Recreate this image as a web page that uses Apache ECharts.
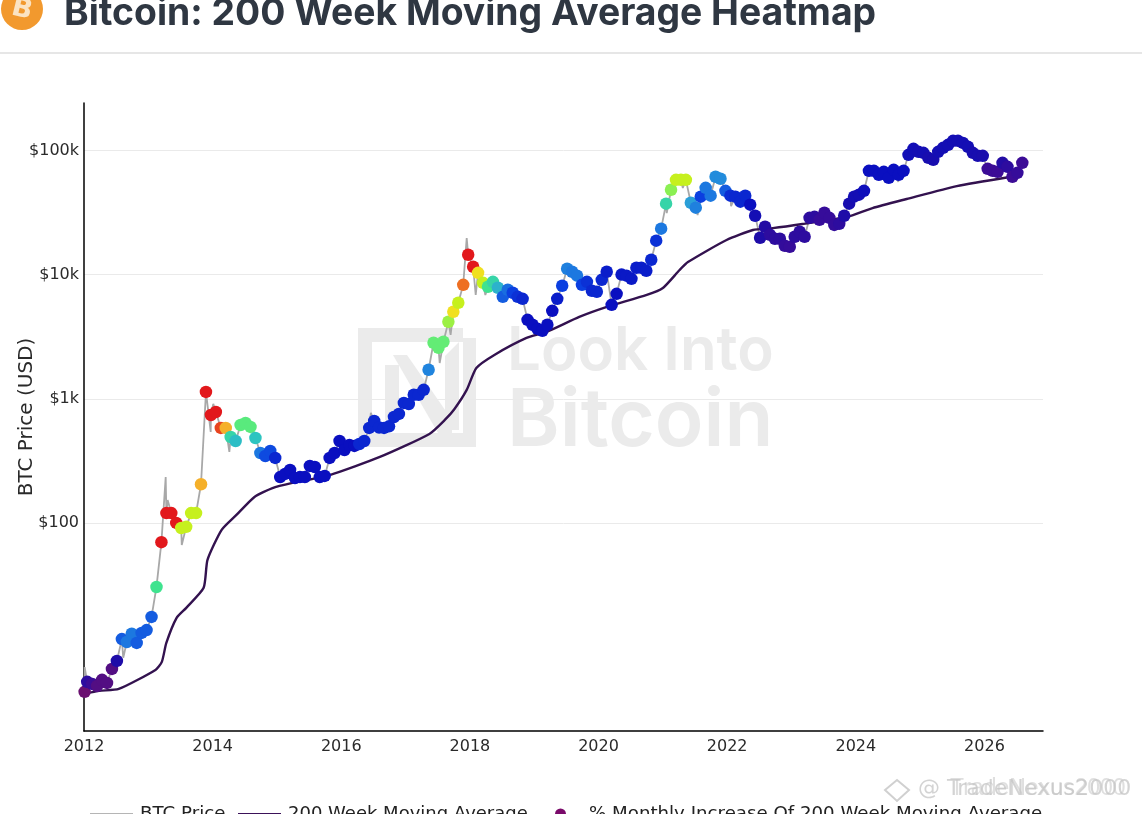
<!DOCTYPE html>
<html><head><meta charset="utf-8">
<style>html,body{margin:0;padding:0;background:#fff;overflow:hidden}#c{width:1142px;height:814px}</style>
<script src="https://cdn.jsdelivr.net/npm/echarts@6/dist/echarts.min.js"></script>
</head><body><div id="c"></div>
<script>
const tickValues=[100,1000,10000,100000];
const tickLabels=['$100','$1k','$10k','$100k'];
const xTicks=[2012,2014,2016,2018,2020,2022,2024,2026];
const seriesNames=['BTC Price','200 Week Moving Average','% Monthly Increase Of 200 Week Moving Average'];
const dotFirst=2012.01, dotStart=2012.05, dotStep=1/13;
const dotPrices=[4.36,5.25,5.05,4.87,5.45,5.15,6.67,7.74,11.6,11,12.8,10.8,13,13.7,17.5,30.5,70,120,120,100,91,93,120,120,205,1135,740,783,582,582,492,457,615,639,593,483,366,346,380,334,234,248,267,230,234,234,288,282,234,239,334,366,457,387,425,417,432,457,582,662,587,582,600,
713,755,926,908,1077,1077,1180,1712,2825,2573,2877,4169,5018,5929,8277,14440,11560,10340,8590,7980,8750,7830,6620,7550,7140,6620,6380,4325,3945,3660,3530,3945,5110,6380,8130,11140,10540,9800,8277,8750,7410,7270,9080,10540,5710,7000,10000,9800,9250,11350,11350,10740,13180,18750,23440,
37240,48200,57940,57940,57940,37930,34600,42430,50000,43250,61400,59150,47300,43250,42430,38650,43250,36560,29800,19800,24270,20900,19450,19450,17060,16750,20180,22130,20180,28640,29170,27620,31480,28640,25120,25640,29800,37240,42430,44060,47300,68500,68500,63640,67250,60200,69800,63640,68500,92200,103000,97500,95700,87200,84000,97500,105000,111000,119500,119500,115000,107000,95700,90500,90500,71100,68500,67250,79400,73800,61400,66000,79400];
const dotPcts=[0,1.5,1,.5,.5,.5,.5,2,4.5,5,5,4.5,4.5,4.5,4.5,8,14,14,14,14,10,10,10,10,12,14,14,14,13.5,12,7.5,6.8,8.5,8.5,8.5,7,5,4.2,4.2,3.5,3,3,3,3,3,3,3,3,3,3,3,3,3,3,3,3,3.5,3.5,3.5,3.5,3.5,3.5,3.5,
3.5,3.5,3.5,3.5,3.5,3.5,3.5,5.3,8.7,8.7,8.7,9.5,11,10,13,14,14,11,10,8,7.5,6.5,4.5,4.8,4,3.7,3.5,3,3,3,3,3,3,3.3,4,5.2,5,5,4,3.7,3.5,3.5,3.5,3.3,3,3,3.2,3.2,3.2,3.3,3.3,3.3,3.5,3.7,5,
7.5,9.3,10,10,10,6,5.2,4,5,5,5.5,5.5,4.5,3.6,3.5,3.5,3.5,3,2.5,2,1.8,1.5,1.5,1.5,1.3,1.2,1.5,1.5,1.5,1.5,1.5,1.2,1.2,1.2,1.3,1.5,2,2.3,2.5,2.5,2.8,3,3,3,3,3,3,3,3,2.6,2.6,2.5,2.5,2.3,2.3,2.5,2.5,2.5,2.5,2.5,2.5,2.5,2.3,2.3,2.2,1,1,1,1.8,1.5,1,1.2,1];
const wmaYears=[2012,2012.24,2012.54,2013.11,2013.21,2013.28,2013.44,2013.59,2013.86,2013.92,2014.14,2014.37,2014.65,2014.93,2015.24,2015.82,2016.6,2017.37,2017.61,2017.76,2017.95,2018.1,2018.38,2018.88,2019.19,2019.7,2020.13,2020.75,2021,2021.26,2021.39,2021.99,2022.4,2022.71,2023.17,2023.86,2024.26,2024.79,2025.57,2026.39];
const wmaPrices=[4.2,4.44,4.6,6.55,7.6,10.8,17.2,20.7,30,50.4,87.9,116,162,191,210,243,340,521,675,828,1178,1770,2255,3090,3450,4560,5495,6860,7800,10890,12620,19000,22860,23700,25580,29100,34360,40640,51640,61100];
const wickYears=[2012.01,2012.61,2013.27,2013.3,2013.52,2013.97,2014.01,2014.26,2016.46,2017.53,2017.7,2017.95,2018.09,2018.24,2021.06,2021.31,2021.54,2022.06,2024.57,2024.66];
const wickPrices=[6.9,8.2,234,153,66.5,540,910,373,770,1940,3270,19700,6850,6850,31300,49800,30200,35600,55700,55700];
const heatColors=['#6a1070','#3c0c96','#1e0ca8','#0a0fc0','#0b3fe0','#1c78e0','#2a9fd8','#2dc4c0','#3fe38f','#72f06a','#c6f01e','#f0e020','#f5b02a','#ee6f22','#e2181c'];

const dots=dotPrices.map((p,i)=>[i===0?dotFirst:dotStart+(i-1)*dotStep,p,dotPcts[i]]);
const priceLine=dots.map(d=>[d[0],d[1]]).concat(wickYears.map((y,i)=>[y,wickPrices[i]])).sort((a,b)=>a[0]-b[0]);
const wma=wmaYears.map((y,i)=>[y,wmaPrices[i]]);
const font='"DejaVu Sans",sans-serif';
const wm='#ebebeb';
const poly=(pts)=>({type:'polygon',z:-1,silent:true,shape:{points:pts},style:{fill:wm}});
const legendItem=(idx,left,icon)=>({left,top:805,itemWidth:43,itemHeight:11,padding:0,selectedMode:false,
  textStyle:{fontFamily:font,fontSize:idx===1?18:18.2,color:'#222',padding:[6,0,0,2]},
  data:[{name:seriesNames[idx],icon}]});
const chart=echarts.init(document.getElementById('c'),null,{renderer:'canvas'});
chart.setOption({
  animation:false,backgroundColor:'#fff',
  title:{text:'Bitcoin: 200 Week Moving Average Heatmap',left:59,top:-10,
    textStyle:{fontFamily:'Inter,sans-serif',fontWeight:700,fontSize:37.3,color:'#2f3742'}},
  grid:{left:84,right:99,top:103,bottom:83,containLabel:false,outerBoundsMode:'none'},
  legend:[legendItem(0,90,'path://M0 7H43V9H0Z'),legendItem(1,238,'path://M0 7H43V9H0Z'),legendItem(2,555,'circle')],
  xAxis:{type:'value',min:2012,max:2026.91,interval:2,
    axisLine:{onZero:false,lineStyle:{color:'#000',width:1.5}},axisTick:{show:false},splitLine:{show:false},
    axisLabel:{fontFamily:font,fontSize:16,color:'#2a2a2a',margin:8,
      customValues:xTicks,formatter:v=>String(v)}},
  yAxis:{type:'log',logBase:10,min:2.11,max:241000,
    name:'BTC Price (USD)',nameLocation:'middle',nameGap:47,nameRotate:90,nameMoveOverlap:false,
    nameTextStyle:{fontFamily:font,fontSize:20,color:'#2a2a2a'},
    axisLine:{onZero:false,lineStyle:{color:'#000',width:1.5}},
    axisTick:{show:false,customValues:tickValues},
    splitLine:{show:true,lineStyle:{color:'#eaeaea',width:1}},
    axisLabel:{fontFamily:font,fontSize:16,color:'#2a2a2a',margin:5,customValues:tickValues,
      formatter:v=>{const i=tickValues.findIndex(t=>Math.abs(t-v)/t<1e-6);return i>=0?tickLabels[i]:'';}}},
  visualMap:{show:false,type:'continuous',seriesIndex:2,dimension:2,min:0,max:14,inRange:{color:heatColors}},
  series:[
    {name:seriesNames[0],type:'line',data:priceLine,showSymbol:false,symbol:'none',z:2,itemStyle:{color:'#b5b5b5'},lineStyle:{color:'#a8a8a8',width:1.8}},
    {name:seriesNames[1],type:'line',data:wma,showSymbol:false,symbol:'none',smooth:0.2,z:3,itemStyle:{color:'#3b1259'},lineStyle:{color:'#33124f',width:2.4}},
    {name:seriesNames[2],type:'scatter',data:dots,symbol:'circle',symbolSize:12.5,z:4,itemStyle:{color:'#7a0a6a',opacity:1}}
  ],
  graphic:[
    {type:'rect',z:-1,silent:true,shape:{x:0,y:52,width:1142,height:2},style:{fill:'#e6e6e6'}},
    {type:'circle',silent:true,shape:{cx:22,cy:9,r:21},style:{fill:'#f2992e'}},
    {type:'text',silent:true,x:22,y:10,rotation:-0.24,style:{text:'B',fill:'#fbe3c2',font:'bold 27px "DejaVu Sans"',textAlign:'center',textVerticalAlign:'middle'}},
    poly([[358,328],[463,328],[463,342],[372,342],[372,433],[463,433],[463,338],[476,338],[476,447],[358,447]]),
    poly([[385,365],[399,365],[399,420],[385,420]]),
    poly([[393,355],[407,355],[452,420],[452,433],[438,433]]),
    poly([[445,356],[459,342],[459,430],[445,430]]),
    {type:'text',z:-1,silent:true,x:507,y:382,style:{text:'Look Into',fill:wm,font:'600 60px Inter',textVerticalAlign:'bottom'}},
    {type:'text',z:-1,silent:true,x:507,y:462,style:{text:'Bitcoin',fill:wm,font:'600 80px Inter',textVerticalAlign:'bottom'}},
    {type:'polygon',silent:true,shape:{points:[[897,780],[909,790],[897,801],[885,790]]},style:{fill:'none',stroke:'#d0d0d0',lineWidth:2}},
    {type:'text',silent:true,x:918,y:789,style:{text:'@ TradeNexus2000',fill:'#c4c4c4',opacity:.75,font:'22px "DejaVu Sans"',textVerticalAlign:'middle'}},
    {type:'text',silent:true,x:950,y:789,style:{text:'TradeNexus2000',fill:'#c4c4c4',opacity:.55,font:'23px "Liberation Sans"',textVerticalAlign:'middle'}}
  ]
});
</script></body></html>
